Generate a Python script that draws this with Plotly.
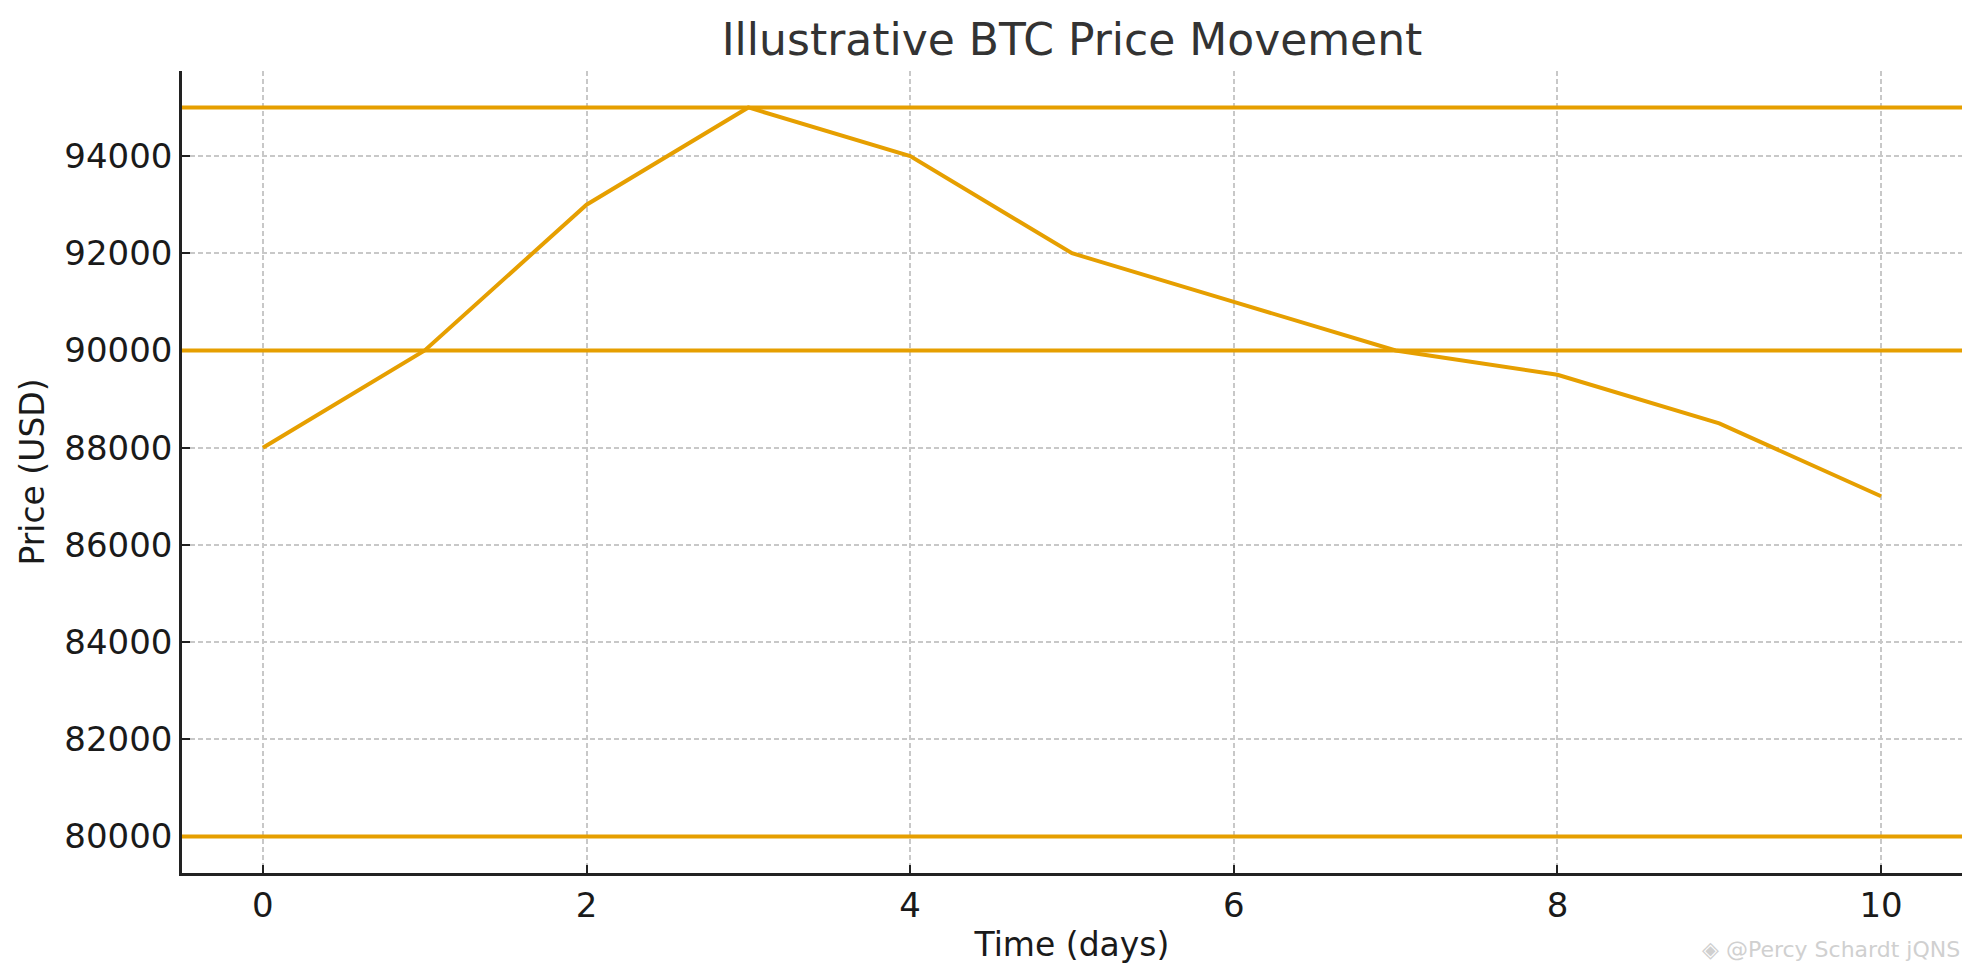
import plotly.graph_objects as go

days = [0, 1, 2, 3, 4, 5, 6, 7, 8, 9, 10]
price = [88000, 90000, 93000, 95000, 94000, 92000, 91000, 90000, 89500, 88500, 87000]
levels = [95000, 90000, 80000]
x_ticks = [0, 2, 4, 6, 8, 10]
y_ticks = [80000, 82000, 84000, 86000, 88000, 90000, 92000, 94000]
y_tick_labels = [str(v) for v in y_ticks]

ORANGE = "#E69F00"
FONT = "DejaVu Sans"

fig = go.Figure()
fig.add_trace(go.Scatter(x=days, y=price, mode="lines",
                         line=dict(color=ORANGE, width=4), showlegend=False,
                         hoverinfo="x+y"))
for lv in levels:
    fig.add_hline(y=lv, line=dict(color=ORANGE, width=4), layer="above")

axis_common = dict(
    showgrid=True, gridcolor="#c8c8c8", gridwidth=1.5, griddash="5px,3px",
    showline=True, linecolor="#222222", linewidth=2.5,
    ticks="inside", ticklen=8, tickwidth=2, tickcolor="#222222",
    tickfont=dict(family=FONT, size=34, color="#1a1a1a"),
    zeroline=False, mirror=False,
)

fig.update_xaxes(range=[-0.5, 10.5], tickvals=x_ticks,
                 title=dict(text="Time (days)", font=dict(family=FONT, size=33, color="#1a1a1a"), standoff=10),
                 **axis_common)
fig.update_yaxes(range=[79250, 95750], tickvals=y_ticks, ticktext=y_tick_labels,
                 title=dict(text="Price (USD)", font=dict(family=FONT, size=33, color="#1a1a1a"), standoff=10),
                 **axis_common)

W, H = 1971, 972
fig.update_layout(
    width=W, height=H,
    margin=dict(l=174, r=17, t=63, b=107),
    paper_bgcolor="white", plot_bgcolor="white",
    title=dict(text="Illustrative BTC Price Movement", x=0.5, xref="paper",
               y=1 - 32 / H, yref="container", yanchor="middle", xanchor="center",
               font=dict(family=FONT, size=44, color="#333333")),
    annotations=[dict(text="◈ @Percy Schardt jQNS", xref="paper", yref="paper",
                      x=1.0, y=-0.095, xanchor="right", yanchor="middle",
                      showarrow=False,
                      font=dict(family=FONT, size=22, color="#d0d0d0"))],
)

fig.write_html("out.html")
